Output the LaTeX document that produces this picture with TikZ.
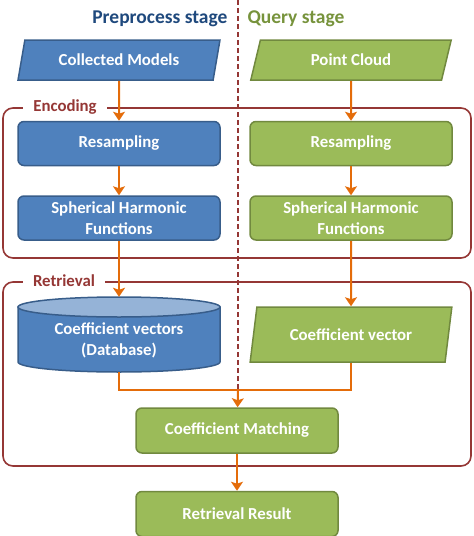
\documentclass[tikz,border=0pt]{standalone}
\usepackage{fontspec}
\setmainfont{Carlito}
\usetikzlibrary{arrows.meta}
\usetikzlibrary{shapes.geometric}
\usetikzlibrary{positioning}

\definecolor{boxblue}{HTML}{4F81BD}
\definecolor{lineblue}{HTML}{385D8A}
\definecolor{topblue}{HTML}{95B3D7}
\definecolor{boxgreen}{HTML}{9BBB59}
\definecolor{linegreen}{HTML}{71893F}
\definecolor{framered}{HTML}{953735}
\definecolor{arroworange}{HTML}{E46C0A}
\definecolor{titleblue}{HTML}{1F497D}
\definecolor{titlegreen}{HTML}{77933C}

\begin{document}
\begin{tikzpicture}[x=1pt,y=-1pt,>={Stealth[length=9pt,width=12pt,inset=2pt]},node distance=232pt,
  box text/.style={text=white,font=\bfseries\fontsize{16.8}{21}\selectfont,align=center},
  box/.style={box text,rectangle,rounded corners=6pt,line width=1.5pt,
    minimum width=202pt,minimum height=44pt},
  blue box/.style={box,fill=boxblue,draw=lineblue},
  green box/.style={box,fill=boxgreen,draw=linegreen},
  io/.style={box text,trapezium,trapezium left angle=76,trapezium right angle=104,
    trapezium stretches=true,line width=1.5pt,minimum width=202pt,minimum height=40pt},
  blue io/.style={io,fill=boxblue,draw=lineblue},
  green io/.style={io,fill=boxgreen,draw=linegreen},
  frame/.style={draw=framered,line width=1.6pt,rounded corners=10pt},
  frame label/.style={fill=white,text=framered,inner xsep=10pt,inner ysep=1pt,
    font=\bfseries\fontsize{16.8}{20}\selectfont},
  stage/.style={font=\bfseries\fontsize{19.5}{23}\selectfont},
  flow/.style={->,draw=arroworange,line width=2pt}]

  \useasboundingbox (0,0) rectangle (474,536);

  % stage titles and divider
  \node[stage,text=titleblue,anchor=east] (pre) at (231,19) {Preprocess stage};
  \node[stage,text=titlegreen,anchor=west] (query) at (244,19) {Query stage};

  % frames
  \draw[frame] (3,108) rectangle (471,258);
  \node[frame label] (enc) at (65,107) {Encoding};
  \draw[frame] (3,282) rectangle (471,466);
  \node[frame label] (ret) at (64,281) {Retrieval};

  \coordinate (top) at (238,0);
  \coordinate (join) at (238,390);
  \draw[draw=framered,line width=1.6pt,dash pattern=on 5pt off 3pt] (top) -- (join);

  % preprocess column
  \node[blue io] (models) at (119,60) {Collected Models};
  \node[blue box] (resl) at (119,143.5) {Resampling};
  \node[blue box] (shfl) at (119,218) {Spherical Harmonic\\Functions};
  \node[minimum width=202pt,minimum height=75pt] (db) at (119,334.5) {};
  \draw[line width=1.5pt,draw=lineblue,fill=boxblue] (18,307) -- (18,362)
    arc[start angle=180,end angle=0,x radius=101,y radius=10] -- (220,307) -- cycle;
  \draw[line width=1.5pt,draw=lineblue,fill=topblue] (119,307) ellipse[x radius=101,y radius=10];
  \node[box text] (dbtext) at (119,340) {Coefficient vectors\\(Database)};

  % query column
  \node[green io] (cloud) [right of=models] {Point Cloud};
  \node[green box] (resr) [right of=resl] {Resampling};
  \node[green box] (shfr) [right of=shfl] {Spherical Harmonic\\Functions};
  \node[green io,minimum height=55pt] (cv) [right of=db] {Coefficient vector};

  % matching
  \node[green box,minimum height=45pt] (match) at (237,430.5) {Coefficient Matching};
  \node[green box,minimum height=45pt] (result) [below=37pt of match] {Retrieval Result};

  % arrows
  \draw[flow] (models) -- (resl);
  \draw[flow] (resl) -- (shfl);
  \draw[flow] (shfl) -- (db);
  \draw[flow] (cloud) -- (resr);
  \draw[flow] (resr) -- (shfr);
  \draw[flow] (shfr) -- (cv);
  \draw[flow,-] (db) |- (join);
  \draw[flow,-] (cv) |- (join);
  \draw[flow] (join) -- (match);
  \draw[flow] (match) -- (result);
\end{tikzpicture}
\end{document}
